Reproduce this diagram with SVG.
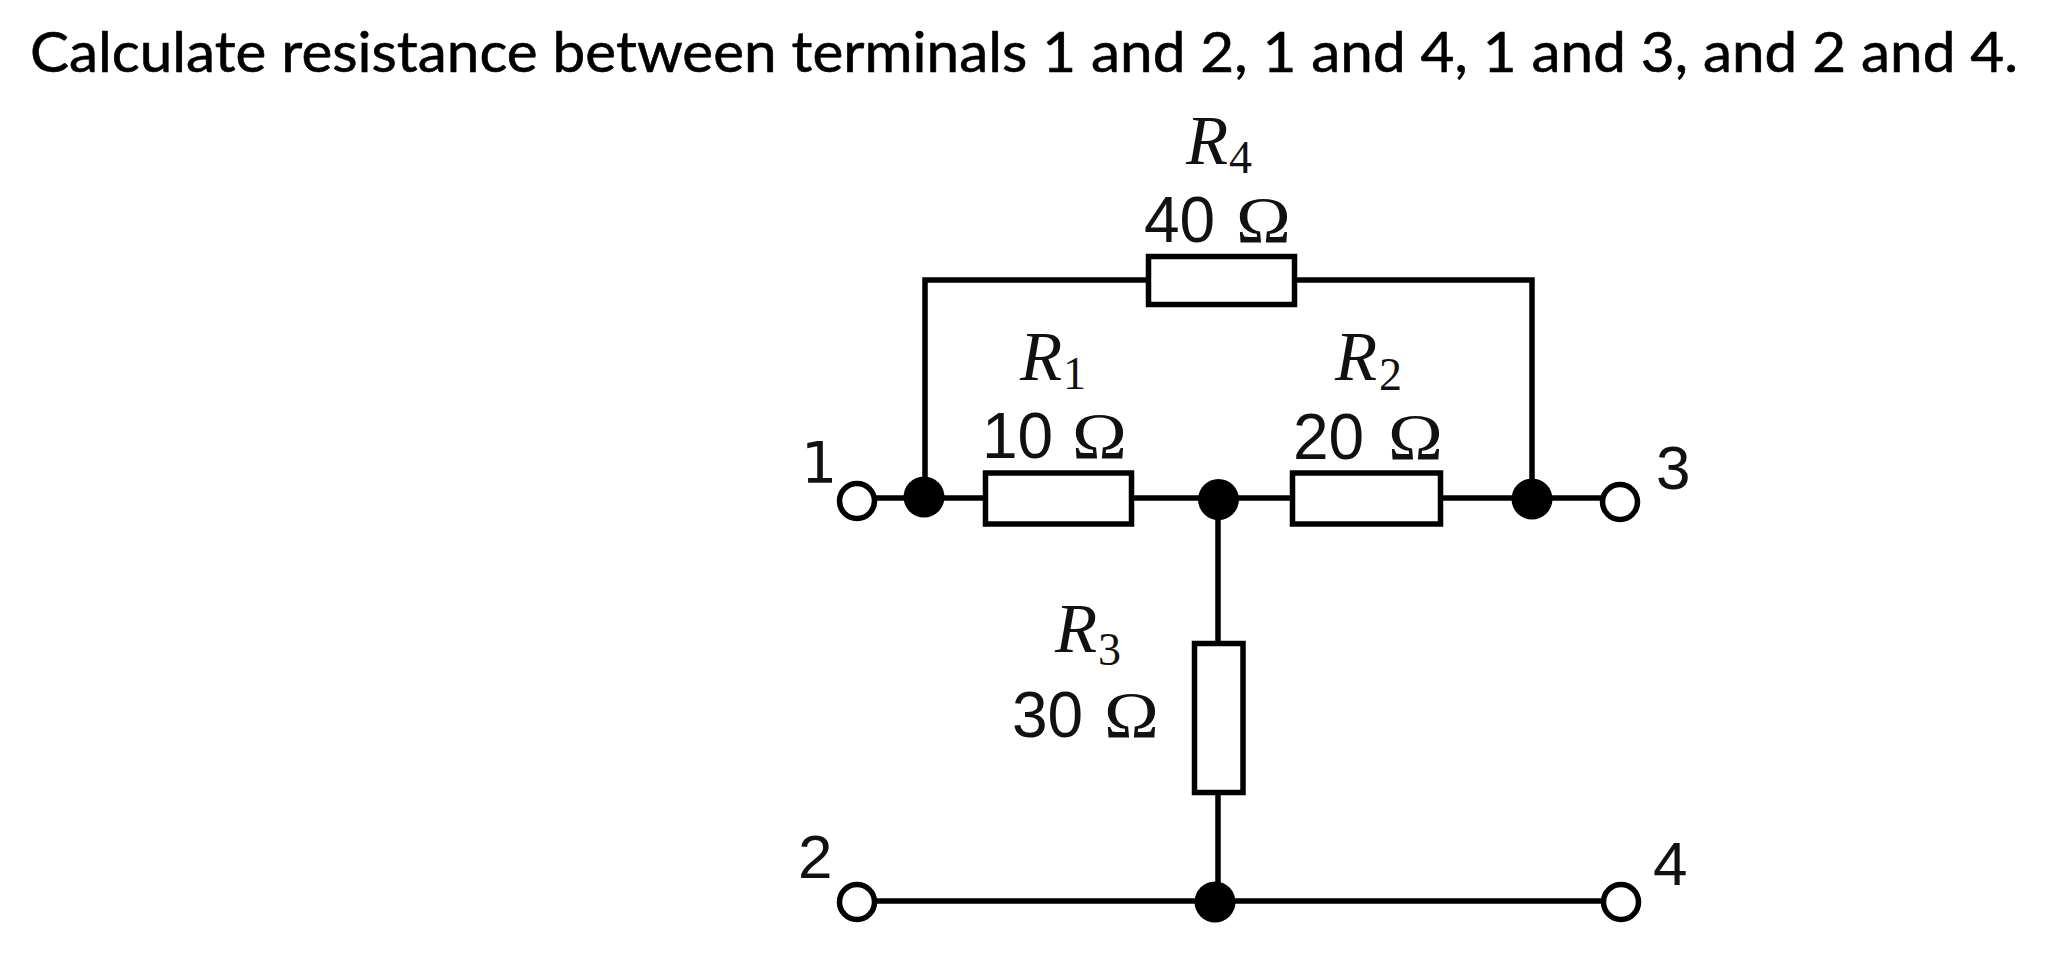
<svg xmlns="http://www.w3.org/2000/svg" width="2046" height="969" viewBox="0 0 2046 969">
<style>
.w{fill:none;stroke:#000;stroke-width:5.5}
.r{fill:#fff;stroke:#000;stroke-width:5.5}
.j{fill:#000}
.t{fill:#fff;stroke:#000;stroke-width:5.5}
.v{font-family:"Liberation Sans",Arial,sans-serif;font-size:64px;fill:#111}
.o{font-family:"Liberation Serif",serif;font-size:66px;fill:#111}
.n{font-family:"Liberation Serif",serif;font-style:italic;font-size:69px;fill:#111}
.s{font-family:"Liberation Serif",serif;font-size:46px;fill:#111}
.l{font-family:"Liberation Sans",Arial,sans-serif;font-size:62px;fill:#111}
</style>
<rect width="2046" height="969" fill="#fff"/>
<text id="title" x="30" y="72" font-family="Lato,sans-serif" font-size="56" fill="#000" stroke="#000" stroke-width="0.6" textLength="1988" lengthAdjust="spacingAndGlyphs">Calculate resistance between terminals 1 and 2, 1 and 4, 1 and 3, and 2 and 4.</text>
<g id="connectors">
<path class="w" d="M925 498V280H1532V498"/>
<path class="w" d="M857 498H1620"/>
<path class="w" d="M1218 499V902"/>
<path class="w" d="M857 901H1621"/>
</g>
<g id="R4"><rect class="r" x="1148.5" y="256.5" width="146" height="48"/>
<text class="n" x="1186" y="164">R</text><text class="s" x="1229" y="173">4</text>
<text class="v" x="1144" y="242">40</text><text class="o" transform="translate(1236 242) scale(1.12 1)">Ω</text></g>
<g id="R1"><rect class="r" x="985.5" y="473" width="146" height="51"/>
<text class="n" x="1020" y="380">R</text><text class="s" x="1063" y="389">1</text>
<text class="v" x="982" y="458">10</text><text class="o" transform="translate(1072 458) scale(1.12 1)">Ω</text></g>
<g id="R2"><rect class="r" x="1292.5" y="473" width="148" height="51"/>
<text class="n" x="1335" y="380">R</text><text class="s" x="1379" y="390">2</text>
<text class="v" x="1293" y="459">20</text><text class="o" transform="translate(1388 459) scale(1.12 1)">Ω</text></g>
<g id="R3"><rect class="r" x="1194.5" y="643.5" width="48.5" height="149"/>
<text class="n" x="1055" y="652">R</text><text class="s" x="1098" y="665">3</text>
<text class="v" x="1012" y="737">30</text><text class="o" transform="translate(1104 737) scale(1.12 1)">Ω</text></g>
<g id="junction-a"><circle class="j" cx="924" cy="497" r="20.5"/></g>
<g id="junction-b"><circle class="j" cx="1218.5" cy="499.5" r="20.5"/></g>
<g id="junction-c"><circle class="j" cx="1532" cy="499" r="20.5"/></g>
<g id="junction-d"><circle class="j" cx="1215" cy="902" r="20.5"/></g>
<g id="terminal-1"><circle class="t" cx="857" cy="501" r="17.5"/><text x="801" y="483" font-family="DejaVu Sans,sans-serif" font-size="57" fill="#111">1</text></g>
<g id="terminal-2"><circle class="t" cx="857" cy="902" r="17.5"/><text class="l" x="798" y="878">2</text></g>
<g id="terminal-3"><circle class="t" cx="1620" cy="502" r="17.5"/><text class="l" x="1656" y="489">3</text></g>
<g id="terminal-4"><circle class="t" cx="1621" cy="902" r="17.5"/><text class="l" x="1653" y="885">4</text></g>
</svg>
